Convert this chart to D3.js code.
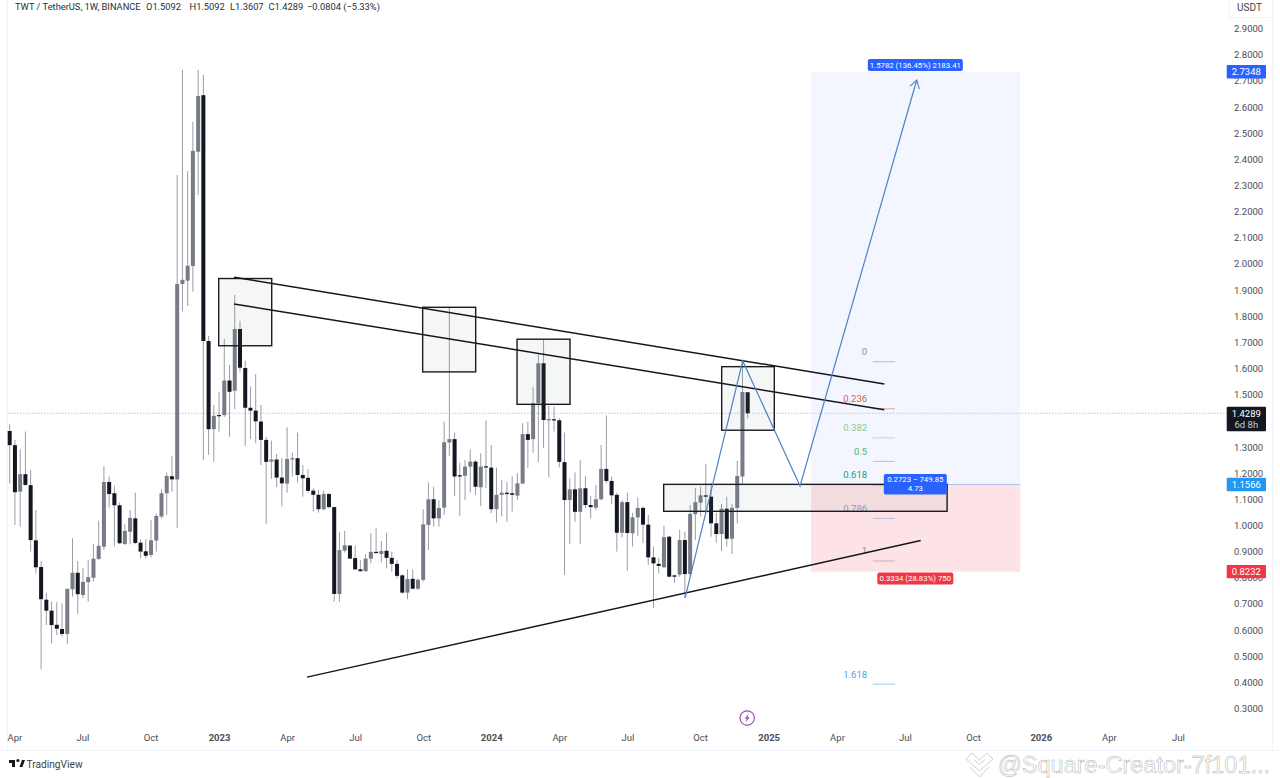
<!DOCTYPE html>
<html>
<head>
<meta charset="utf-8">
<title>TWT / TetherUS</title>
<script src="https://cdn.jsdelivr.net/npm/d3@7/dist/d3.min.js"></script>
<style>
    html, body { margin: 0; background: #fff; }
    svg { display: block; font-family: Roboto, sans-serif; }
</style>
</head>
<body>
<svg id="chart" width="1280" height="778"></svg>
<script>
// Weekly candles (bar 0 = first visible week of Apr 2022).
const opens = [
    1.361,1.307,1.129,1.196,1.154,.943,.841,.716,.674,.620,
    .604,.585,.756,.819,.734,.783,.800,.872,.919,1.166,
    1.123,1.077,.929,.976,1.027,.934,.901,.887,.942,1.034,
    1.123,1.188,1.176,1.923,1.936,1.992,2.429,2.645,1.705,1.368,
    1.422,1.422,1.554,1.515,1.751,1.602,1.450,1.439,1.397,1.327,
    1.244,1.252,1.183,1.160,1.252,1.257,1.193,1.182,1.133,1.117,
    1.062,1.120,1.070,.738,.904,.923,.875,.832,.825,.873,
    .899,.891,.903,.876,.853,.809,.743,.796,.758,.792,
    1.002,1.100,1.027,1.068,1.317,1.330,1.192,1.190,1.225,1.244,
    1.146,1.226,1.221,1.062,1.117,1.125,1.123,1.114,1.160,1.349,
    1.330,1.467,1.620,1.402,1.406,1.402,1.242,1.097,1.138,1.052,
    1.142,1.078,1.068,1.100,1.216,1.170,1.117,.972,1.089,.970,
    1.031,1.067,1.003,.878,.853,.840,.957,.809,.812,.944,
    .814,1.043,1.087,1.115,1.110,1.008,.967,1.064,.949,1.067,
    1.187,1.5092];
const highs = [
    1.387,1.327,1.291,1.359,1.212,1.059,.864,.743,.709,.707,
    .702,.760,.951,.864,.838,.868,.929,1.018,1.227,1.187,
    1.152,1.087,1.004,1.059,1.125,.947,.947,1.021,1.044,1.138,
    1.202,1.266,2.340,2.742,2.355,2.543,2.742,2.723,1.725,1.461,
    1.510,1.713,1.614,1.881,1.782,1.630,1.531,1.579,1.461,1.339,
    1.324,1.273,1.257,1.375,1.278,1.355,1.231,1.215,1.142,1.136,
    1.133,1.125,1.072,.976,.979,.924,.922,.868,.890,.970,
    .989,.941,.972,.900,.868,.814,.832,.832,.798,1.062,
    1.164,1.148,1.097,1.397,1.837,1.355,1.240,1.250,1.291,1.250,
    1.276,1.401,1.308,1.221,1.174,1.167,1.187,1.200,1.391,1.397,
    1.528,1.658,1.709,1.457,1.454,1.410,1.355,1.180,1.203,1.250,
    1.189,1.113,1.155,1.308,1.420,1.187,1.125,1.097,1.125,1.048,
    1.106,1.072,1.040,.919,.876,.998,.960,.811,.983,.976,
    1.078,1.143,1.148,1.234,1.163,1.048,1.082,1.110,1.082,1.247,
    1.626,1.5092];
const lows = [
    1.161,1.002,.995,1.151,.900,.817,.450,.619,.549,.581,
    .575,.547,.728,.662,.722,.709,.785,.868,.906,1.069,
    .919,.929,.925,.928,.928,.874,.874,.878,.900,1.027,
    1.040,1.129,.991,1.818,1.839,1.894,2.264,1.250,1.270,1.243,
    1.359,1.415,1.339,1.444,1.588,1.304,1.330,1.314,1.231,1.006,
    1.178,1.146,1.072,1.125,1.187,1.164,1.110,1.125,1.053,1.049,
    1.057,1.066,.708,.708,.896,.873,.830,.823,.823,.855,
    .894,.858,.836,.823,.798,.740,.718,.756,.753,.785,
    .906,.995,.995,1.040,1.266,1.113,1.036,1.097,1.125,1.117,
    1.074,1.143,1.047,1.011,1.034,1.014,1.053,1.097,1.159,1.219,
    1.278,1.242,1.297,1.184,1.359,1.222,.811,.929,1.014,.929,
    1.066,1.027,1.059,1.097,1.161,1.082,.900,.955,.827,.919,
    .960,.932,.849,.684,.817,.837,.802,.780,.804,.723,
    .807,.944,1.034,1.048,.957,.934,.902,.919,.891,1.008,
    1.155,1.41];
const closes = [
    1.307,1.127,1.196,1.155,.944,.840,.718,.674,.619,.605,
    .585,.757,.819,.737,.784,.802,.873,.922,1.166,1.120,
    1.077,.932,.979,1.029,.933,.900,.884,.943,1.036,1.123,
    1.189,1.176,1.923,1.939,1.993,2.432,2.642,1.705,1.368,1.419,
    1.419,1.554,1.511,1.751,1.603,1.450,1.439,1.398,1.327,1.243,
    1.252,1.183,1.161,1.254,1.257,1.193,1.180,1.132,1.117,1.062,
    1.120,1.070,.738,.906,.924,.873,.832,.825,.873,.899,
    .894,.902,.876,.853,.807,.743,.795,.758,.792,1.004,
    1.100,1.027,1.067,1.318,1.330,1.187,1.187,1.225,1.244,1.148,
    1.225,1.222,1.062,1.117,1.125,1.120,1.117,1.161,1.349,1.327,
    1.467,1.620,1.403,1.407,1.402,1.243,1.097,1.138,1.052,1.142,
    1.078,1.070,1.100,1.216,1.170,1.115,.972,1.089,.971,1.031,
    1.067,1.003,.878,.855,.845,.955,.804,.804,.944,.814,
    1.044,1.089,1.115,1.110,1.008,.967,1.064,.949,1.067,1.189,
    1.510,1.4289];

// Axis ticks (1.4000 sits fully behind the last price tag in the picture).
const priceTicks = [0.3, 0.4, 0.5, 0.6, 0.7, 0.8, 0.9, 1.0, 1.1, 1.2, 1.3, 1.5, 1.6, 1.7, 1.8, 1.9,
    2.0, 2.1, 2.2, 2.3, 2.4, 2.5, 2.6, 2.7, 2.8, 2.9];
const timeTickBars = [0.9, 13.9, 26.9, 40, 53, 66, 79, 92, 105, 118, 131.9, 145, 158.06, 171.05, 184.05, 197, 210, 223.2];
const timeTickLabels = ["Apr", "Jul", "Oct", "2023", "Apr", "Jul", "Oct", "2024", "Apr", "Jul", "Oct", "2025", "Apr", "Jul", "Oct", "2026", "Apr", "Jul"];

// Header pieces and where each one starts.
const headerTexts = ["TWT / TetherUS, 1W, BINANCE", "O1.5092", "H1.5092", "L1.3607", "C1.4289", "−0.0804 (−5.33%)"];
const headerStarts = [15, 146, 189.5, 230, 268.5, 307];

// Price levels of the long position tool.
const lastPrice = 1.4289;
const targetPrice = 2.7348;
const entryPrice = 1.1566;
const stopPrice = 0.8232;
const positionBars = [153.1, 193.1];

// Rectangles: [bar from, bar to, price top, price bottom].
const zoneBoxes = [
    [39.93, 50.06, 1.944, 1.687],
    [78.9, 89.03, 1.834, 1.587],
    [96.93, 107.05, 1.712, 1.463],
    [136.03, 146.08, 1.607, 1.364],
    [124.95, 179.1, 1.157, 1.054]
];

// Trend lines: [bar, price, bar, price].
const trendLines = [
    [42.85, 1.949, 167.1, 1.541],
    [42.85, 1.847, 167.1, 1.442],
    [56.8, 0.420, 174.05, 0.942]
];

// Projected path (blue arrow).
const pathBars = [129.03, 140.05, 151, 173.3];
const pathPrices = [0.722, 1.629, 1.151, 2.703];

// Fibonacci levels.
const fibLabels = ["0", "0.236", "0.382", "0.5", "0.618", "0.786", "1", "1.618"];
const fibPrices = [1.626, 1.446, 1.335, 1.245, 1.155, 1.027, 0.864, 0.393];
const fibColors = ["#8d8f99", "#dc5a5a", "#8cc98f", "#5cb562", "#0f9d84", "#7f9fd0", "#8d8f99", "#4aa3e8"];
const fibBars = [164.9, 169.15];

const width = 1280;
const height = 778;
const plotLeft = 8;
const axisLeft = 1229;
const axisBottom = 750.5;

const svg = d3.select("#chart");

// Bar index -> pixel, price -> pixel.
const x = d3.scaleLinear().domain([0, 141]).range([9.7, 747.7]);
const y = d3.scaleLinear().domain([0.3, 2.9]).range([708.5, 28.5]);

const candles = opens.map((open, i) => ({ i, open, high: highs[i], low: lows[i], close: closes[i] }));

// Frame lines.
const frame = svg.append("g").attr("stroke", "#f0f3fa").attr("stroke-width", 1);
frame.append("line").attr("x1", plotLeft - 0.5).attr("x2", plotLeft - 0.5).attr("y1", 0).attr("y2", axisBottom);
frame.append("line").attr("x1", 0).attr("x2", width).attr("y1", axisBottom).attr("y2", axisBottom);
frame.append("line").attr("x1", 1272.5).attr("x2", 1272.5).attr("y1", 0).attr("y2", axisBottom);
frame.append("path").attr("fill", "none").attr("d", `M${axisLeft + 0.5},0V17.5H1270`);

// Long position tool: target and stop areas.
const [posX0, posX1] = positionBars.map(x);
svg.append("rect")
    .attr("x", posX0).attr("width", posX1 - posX0)
    .attr("y", y(targetPrice)).attr("height", y(entryPrice) - y(targetPrice))
    .attr("fill", "#f3f6fe");
svg.append("rect")
    .attr("x", posX0).attr("width", posX1 - posX0)
    .attr("y", y(entryPrice)).attr("height", y(stopPrice) - y(entryPrice))
    .attr("fill", "#fde3e5");
svg.append("line")
    .attr("x1", posX0).attr("x2", posX1)
    .attr("y1", y(entryPrice)).attr("y2", y(entryPrice))
    .attr("stroke", "#a9c0e2").attr("stroke-width", 1);

// Last price line.
svg.append("line")
    .attr("x1", plotLeft).attr("x2", axisLeft)
    .attr("y1", y(lastPrice)).attr("y2", y(lastPrice))
    .attr("stroke", "#b6b9c2").attr("stroke-width", 0.8)
    .attr("stroke-dasharray", "1.5 1.5");

// Fibonacci levels.
const fib = svg.append("g");
fib.selectAll("line")
    .data(fibPrices)
    .join("line")
        .attr("x1", x(fibBars[0])).attr("x2", x(fibBars[1]))
        .attr("y1", d => y(d)).attr("y2", d => y(d))
        .attr("stroke", (d, i) => fibColors[i])
        .attr("stroke-width", 1)
        .attr("opacity", 0.55);
fib.selectAll("text")
    .data(fibPrices)
    .join("text")
        .attr("x", x(fibBars[0]) - 5.7)
        .attr("y", d => y(d) - 6.5)
        .attr("text-anchor", "end")
        .attr("fill", (d, i) => fibColors[i])
        .style("font-size", "9.5px")
        .text((d, i) => fibLabels[i]);

// Candles: wicks first, bodies on top.
const candleUp = "#787b86";
const candleDown = "#131722";
const bodyWidth = 4;

svg.append("g")
    .selectAll("line")
    .data(candles)
    .join("line")
        .attr("x1", d => x(d.i)).attr("x2", d => x(d.i))
        .attr("y1", d => y(d.high)).attr("y2", d => y(d.low))
        .attr("stroke", "#8f929b")
        .attr("stroke-width", 0.9);

svg.append("g")
    .selectAll("rect")
    .data(candles)
    .join("rect")
        .attr("x", d => x(d.i) - bodyWidth / 2)
        .attr("width", bodyWidth)
        .attr("y", d => y(Math.max(d.open, d.close)))
        .attr("height", d => Math.max(1.2, Math.abs(y(d.open) - y(d.close))))
        .attr("fill", d => d.close >= d.open ? candleUp : candleDown);

// Rectangles drawn on the chart.
svg.append("g")
    .selectAll("rect")
    .data(zoneBoxes)
    .join("rect")
        .attr("x", d => x(d[0]))
        .attr("width", d => x(d[1]) - x(d[0]))
        .attr("y", d => y(d[2]))
        .attr("height", d => y(d[3]) - y(d[2]))
        .attr("fill", "#787b86")
        .attr("fill-opacity", 0.07)
        .attr("stroke", "#1a1c22")
        .attr("stroke-width", 1.4);

// Trend lines.
svg.append("g")
    .selectAll("line")
    .data(trendLines)
    .join("line")
        .attr("x1", d => x(d[0])).attr("y1", d => y(d[1]))
        .attr("x2", d => x(d[2])).attr("y2", d => y(d[3]))
        .attr("stroke", "#14161c")
        .attr("stroke-width", 1.5);

// Projected path with an open arrow head.
svg.append("defs").append("marker")
    .attr("id", "arrow")
    .attr("markerUnits", "userSpaceOnUse")
    .attr("markerWidth", 14).attr("markerHeight", 14)
    .attr("refX", 8).attr("refY", 6)
    .attr("orient", "auto")
    .append("path")
        .attr("d", "M0,1L8,6L0,11")
        .attr("fill", "none")
        .attr("stroke", "#4f83c4")
        .attr("stroke-width", 1.1);

svg.append("path")
    .datum(pathBars.map((bar, i) => [bar, pathPrices[i]]))
    .attr("fill", "none")
    .attr("stroke", "#4f83c4")
    .attr("stroke-width", 1.2)
    .attr("marker-end", "url(#arrow)")
    .attr("d", d3.line().x(d => x(d[0])).y(d => y(d[1])));

// Labels of the long position tool.
function toolLabel(cy, w, h, fill, lines) {
    const cx = (posX0 + posX1) / 2 - 0.4;
    const g = svg.append("g");
    g.append("rect")
        .attr("x", cx - w / 2).attr("y", cy - h / 2)
        .attr("width", w).attr("height", h)
        .attr("rx", 2)
        .attr("fill", fill);
    g.selectAll("text")
        .data(lines)
        .join("text")
            .attr("x", cx)
            .attr("y", (d, i) => cy + 2.7 + (i - (lines.length - 1) / 2) * 9.2)
            .attr("text-anchor", "middle")
            .attr("fill", "#fff")
            .style("font-size", "7.8px")
            .text(d => d);
}
toolLabel(y(targetPrice) - 6.8, 95, 12, "#2962ff", ["1.5782 (136.45%) 2183.41"]);
toolLabel(y(entryPrice) - 0.3, 63, 20.5, "#2962ff", ["0.2723 − 749.85", "4.73"]);
toolLabel(y(stopPrice) + 6.8, 76, 12, "#f23645", ["0.3334 (28.83%) 750"]);

// Price axis.
const priceAxis = svg.append("g")
    .attr("transform", `translate(${axisLeft + 4},0)`)
    .call(d3.axisRight(y).tickValues(priceTicks).tickFormat(d3.format(".4f")).tickSize(0).tickPadding(1));
priceAxis.select(".domain").remove();
priceAxis.selectAll("text")
    .attr("fill", "#4a4d57")
    .style("font-family", "Roboto, sans-serif")
    .style("font-size", "9.5px");

svg.append("text")
    .attr("x", 1249.5).attr("y", 11)
    .attr("text-anchor", "middle")
    .attr("fill", "#3c3f48")
    .style("font-size", "10px")
    .text("USDT");

// Price tags.
function priceTag(price, fill, label, sub) {
    const h = sub ? 24.6 : 13.4;
    const top = sub ? y(price) - 6.6 : y(price) - h / 2;
    svg.append("rect")
        .attr("x", 1226.7).attr("width", 39.3)
        .attr("y", top).attr("height", h)
        .attr("rx", 1)
        .attr("fill", fill);
    svg.append("text")
        .attr("x", 1246.3).attr("y", top + 10)
        .attr("text-anchor", "middle")
        .attr("fill", "#fff")
        .style("font-size", "9.5px")
        .text(label);
    if (sub) {
        svg.append("text")
            .attr("x", 1246.3).attr("y", top + 21)
            .attr("text-anchor", "middle")
            .attr("fill", "#c9cbd2")
            .style("font-size", "9.5px")
            .text(sub);
    }
}
priceTag(targetPrice, "#2962ff", "2.7348");
priceTag(lastPrice, "#131722", "1.4289", "6d 8h");
priceTag(entryPrice, "#2196f3", "1.1566");
priceTag(stopPrice, "#f23645", "0.8232");

// Time axis.
const timeAxis = svg.append("g")
    .attr("transform", "translate(0,731)")
    .call(d3.axisBottom(x).tickValues(timeTickBars).tickFormat((d, i) => timeTickLabels[i]).tickSize(0).tickPadding(3));
timeAxis.select(".domain").remove();
timeAxis.selectAll("text")
    .attr("fill", "#4a4d57")
    .style("font-family", "Roboto, sans-serif")
    .style("font-size", "9.5px")
    .style("font-weight", (d, i) => timeTickLabels[i].length === 4 ? 700 : 400);

// Header line.
svg.append("g")
    .selectAll("text")
    .data(headerTexts)
    .join("text")
        .attr("x", (d, i) => headerStarts[i])
        .attr("y", 10)
        .attr("fill", "#2a2e39")
        .style("font-size", "9.3px")
        .text(d => d);

// Lightning marker below the last candles.
const bolt = svg.append("g").attr("transform", `translate(${x(140.9)},718)`);
bolt.append("circle").attr("r", 7.2).attr("fill", "#fff").attr("stroke", "#9c4fb5").attr("stroke-width", 1.2);
bolt.append("path").attr("d", "M1.5,-4.5L-2.5,0.8H-0.4L-1.5,4.5L2.5,-0.8H0.4Z").attr("fill", "#9c4fb5");

// TradingView logo.
const logo = svg.append("g").attr("transform", "translate(9,760)");
logo.append("path").attr("fill", "#131722").attr("d", "M0,0H6V7H3V3H0ZM10.5,0.5A1.6,1.6 0 1 1 7.3,0.5A1.6,1.6 0 1 1 10.5,0.5ZM10.5,7L13,0H16L13.4,7Z");
svg.append("text")
    .attr("x", 26.5).attr("y", 767.5)
    .attr("fill", "#3c3f48")
    .style("font-size", "10.2px")
    .text("TradingView");

// Watermark in the corner.
const mark = svg.append("g")
    .attr("fill", "none")
    .attr("stroke", "#c4c4c4")
    .attr("stroke-width", 0.8);
mark.append("path").attr("d", "M966,759L972,753L979.5,760L987,753L993,759L979.5,771L966,759");
mark.append("path").attr("d", "M970,767L979.5,777L989,767");
mark.append("path").attr("d", "M974,759.5L979.5,764.5L985,759.5");
svg.append("text")
    .attr("x", 998).attr("y", 773)
    .attr("fill", "#fff")
    .attr("stroke", "#b0b0b0")
    .attr("stroke-width", 0.5)
    .style("font-family", "'Liberation Sans', sans-serif")
    .style("font-size", "23.5px")
    .text("@Square-Creator-7f101...");
</script>
</body>
</html>
